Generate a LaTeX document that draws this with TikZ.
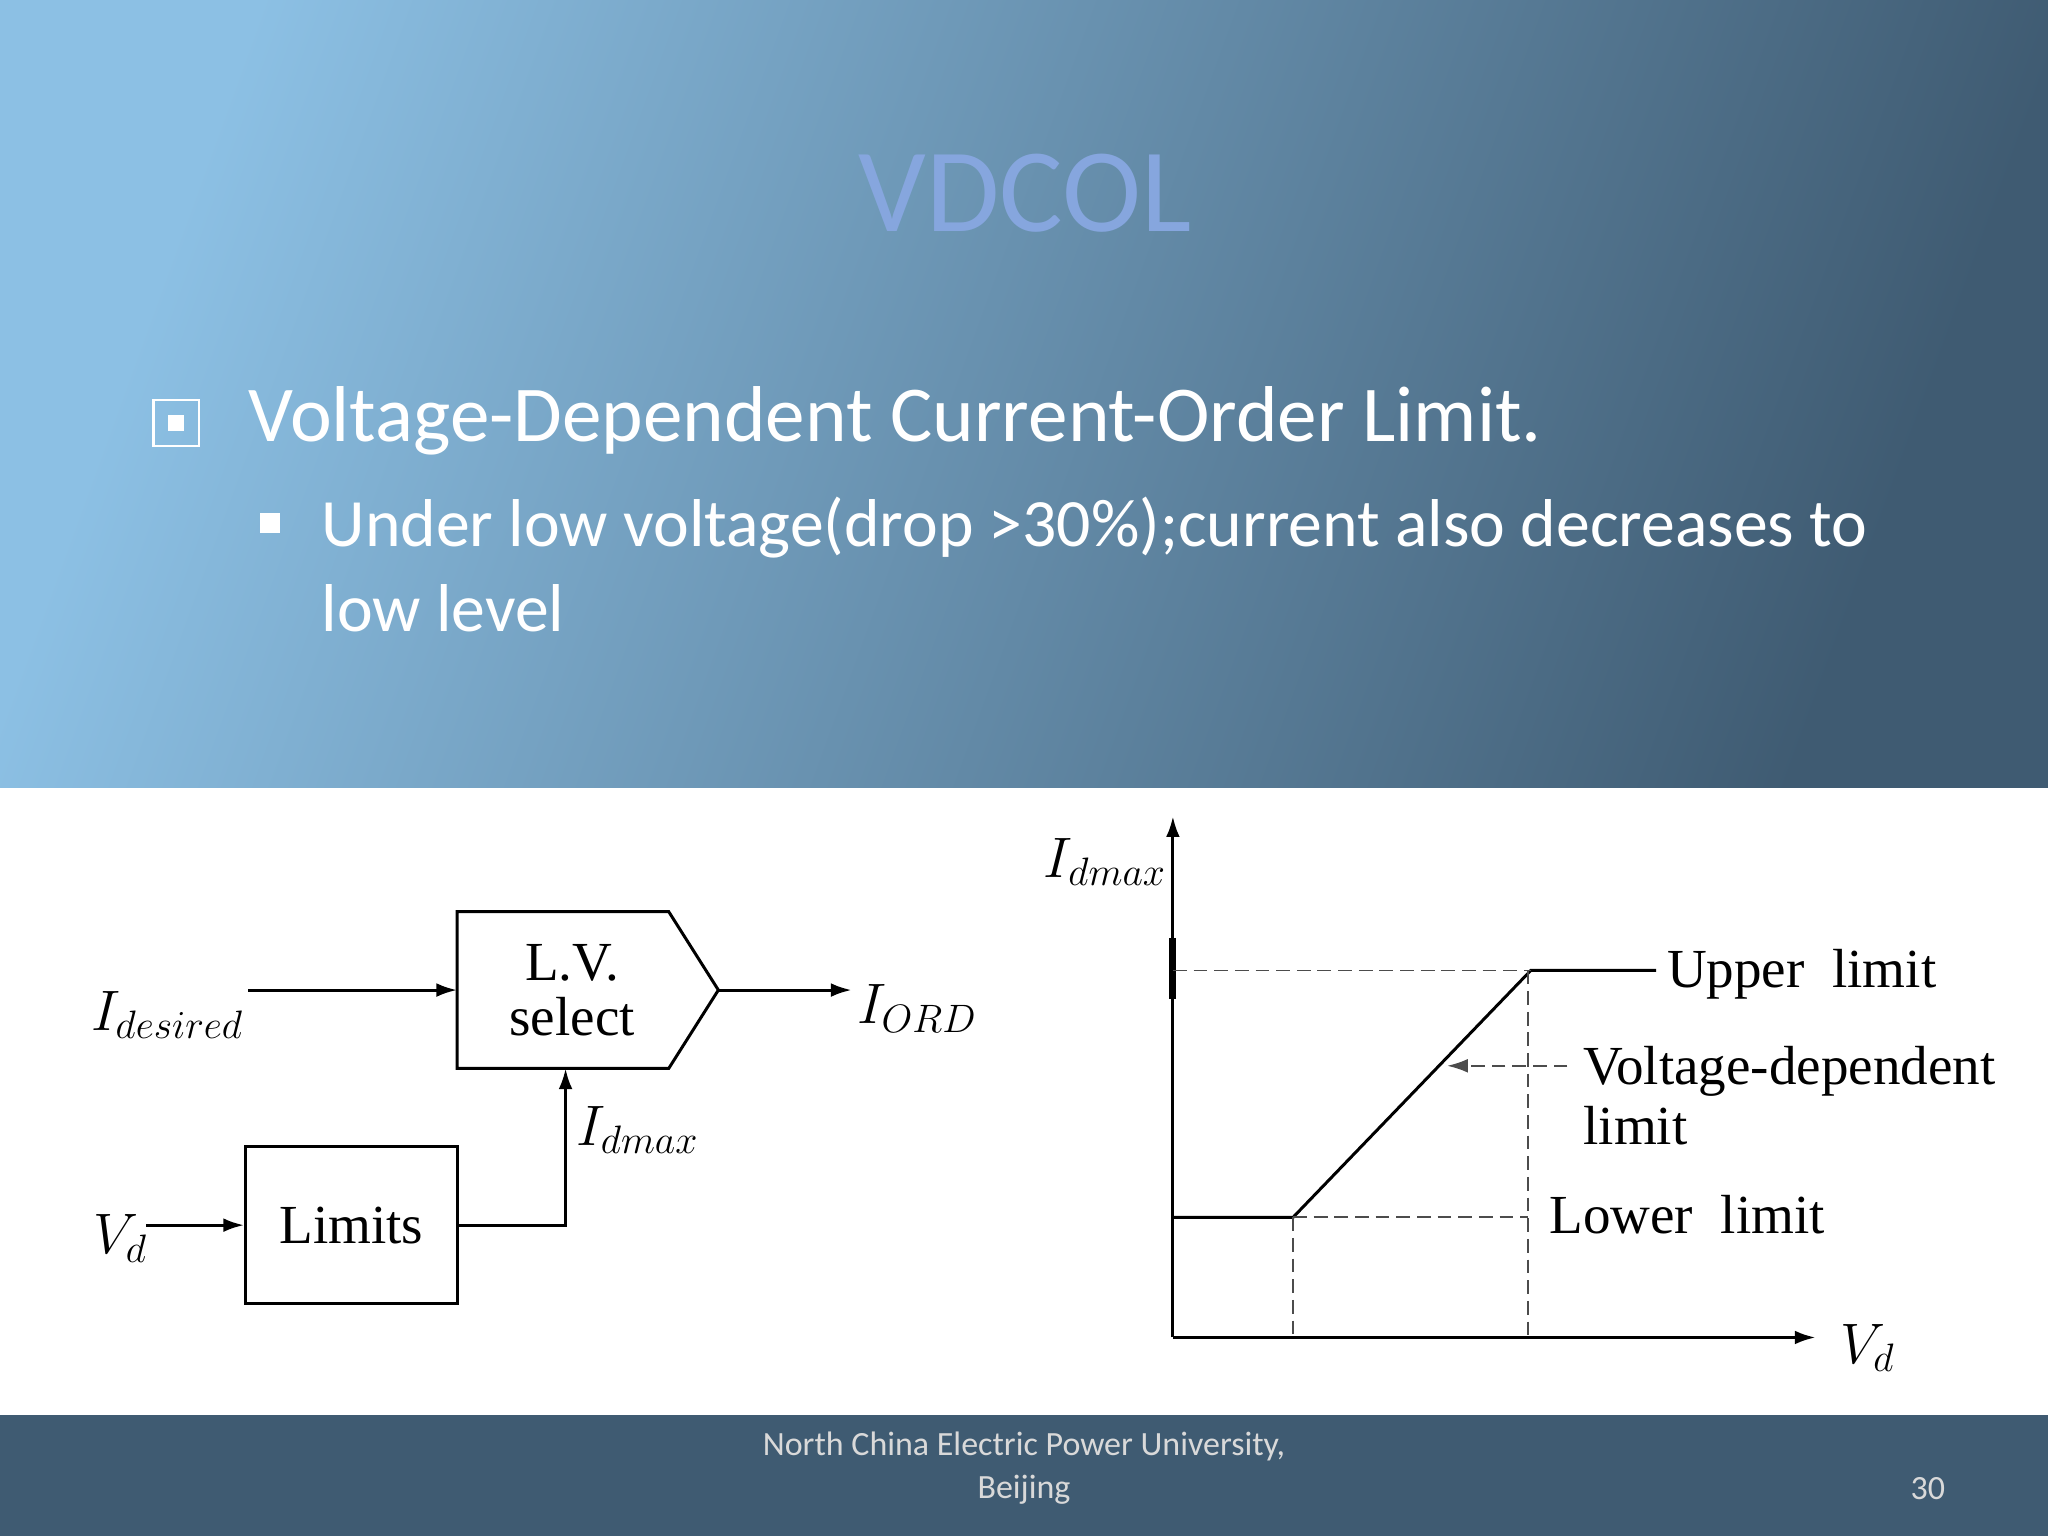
\documentclass[tikz,border=0pt]{standalone}
\usepackage{fontspec}
\setmainfont{Liberation Serif}
\newfontfamily\calfnt{Carlito}
\usetikzlibrary{arrows.meta}
\definecolor{bgL}{HTML}{8CC0E4}
\definecolor{bgR}{HTML}{3F5B72}
\definecolor{titc}{HTML}{86A6DE}
\tikzset{
 ln/.style={line width=1.3pt,black},
 arr/.style={ln,-{Latex[length=9pt,width=6pt]}},
 dsh/.style={black!70,line width=0.8pt,dash pattern=on 6pt off 3pt},
 lbl/.style={font=\fontsize{24}{26}\selectfont,inner sep=0pt},
 mlbl/.style={font=\fontsize{24}{26}\selectfont\itshape,inner sep=0pt},
}
\begin{document}
\begin{tikzpicture}[x=0.02cm,y=-0.02cm]
\useasboundingbox (0,0) rectangle (1568,1176);
\shade[left color=bgL,right color=bgR,shading angle=70] (0,0) rectangle (1568,603);
\fill[bgR] (0,1083) rectangle (1568,1176);
\fill[white] (0,603) rectangle (1568,1083);
% title
\node[text=titc,font=\calfnt\fontsize{52}{54}\selectfont] (title) at (785,148) {VDCOL};
% bullets
\node[draw=white,line width=1pt,minimum size=20pt,inner sep=0pt] (b1) at (135,324) {};
\fill[white] (129,318) rectangle (141,330);
\node[anchor=west,text=white,font=\calfnt\fontsize{34.5}{36}\selectfont] (t1) at (184,322) {Voltage-Dependent Current-Order Limit.};
\fill[white] (199,393) rectangle (214,408);
\node[anchor=north west,text=white,font=\calfnt\fontsize{29.5}{37}\selectfont,align=left] (t2) at (240,374) {Under low voltage(drop >30\%);current also decreases to\\low level};
% block diagram
\coordinate (in1) at (190,758);
\node[mlbl] (ides) at (128,777) {$I_{desired}$};
\draw[ln] (350,698) -- (512,698) -- (550,758) -- (512,818) -- (350,818) -- cycle;
\node[lbl,align=center] (lv) at (438,758) {L.V.\\[-2pt]select};
\coordinate (lvin) at (350,758);
\coordinate (lvout) at (550,758);
\coordinate (lvbot) at (433,818);
\draw[arr] (in1) -- (lvin);
\coordinate (out) at (652,758);
\draw[arr] (lvout) -- (out);
\node[mlbl] (iord) at (702,772) {$I_{ORD}$};
\node[draw,ln,minimum width=162*0.02cm,minimum height=120*0.02cm,lbl] (lim) at (269,938) {Limits};
\node[mlbl] (vd) at (92,948) {$V_d$};
\coordinate (vdo) at (112,938);
\draw[arr] (vdo) -- (lim.west);
\draw[arr] (lim.east) -- (433,938) -- (lvbot);
\node[mlbl] (idm) at (488,865) {$I_{dmax}$};
% graph
\coordinate (O) at (898,1024);
\coordinate (ytop) at (898,625);
\coordinate (xend) at (1390,1024);
\draw[arr] (O) -- (ytop);
\draw[arr] (O) -- (xend);
\draw[line width=3pt] (898,718) -- (898,765);
\node[mlbl] (gy) at (846,660) {$I_{dmax}$};
\node[mlbl] (gx) at (1430,1032) {$V_d$};
\coordinate (A) at (990,932);
\coordinate (B) at (1172,743);
\draw[ln] (898,932) -- (A) -- (B) -- (1268,743);
\draw[dsh] (898,743) -- (B);
\draw[dsh] (A) -- (1170,932);
\draw[dsh] (A) -- (990,1024);
\draw[dsh] (1170,743) -- (1170,1024);
\draw[dsh,-{Latex[length=9pt,width=6pt]}] (1200,816) -- (1108,816);
\node[lbl,anchor=west] (ul) at (1276,746) {Upper\ \ limit};
\node[lbl,anchor=west,align=left] (vdl) at (1212,839) {Voltage-dependent\\limit};
\node[lbl,anchor=west] (ll) at (1186,930) {Lower\ \ limit};
% footer
\node[text=white!85!black,font=\calfnt\fontsize{14.8}{18.5}\selectfont,align=center] (f1) at (784,1124) {North China Electric Power University,\\Beijing};
\node[text=white!85!black,font=\calfnt\fontsize{14.8}{16}\selectfont] (pg) at (1476,1140) {30};
\end{tikzpicture}
\end{document}
